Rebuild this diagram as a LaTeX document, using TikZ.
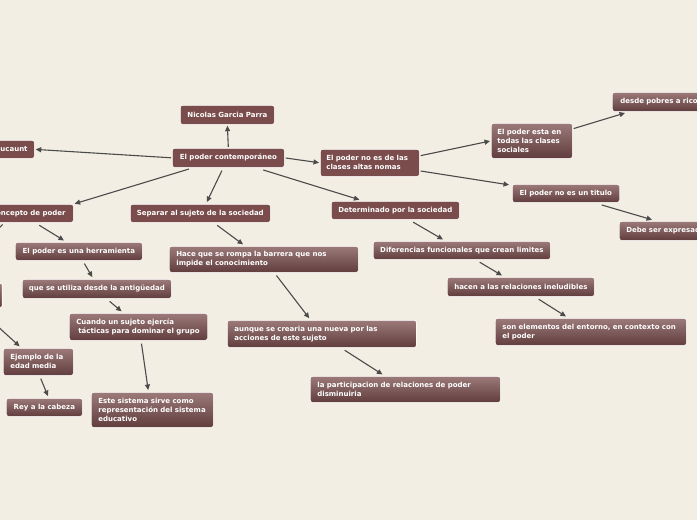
\documentclass[tikz,border=0pt]{standalone}
\usepackage{fontspec}
\setmainfont{DejaVu Sans}
\usetikzlibrary{arrows.meta}
\definecolor{bg}{HTML}{F3EEE3}
\definecolor{flatfill}{HTML}{7A4C4C}
\definecolor{gtop}{HTML}{9C7A7A}
\definecolor{gbot}{HTML}{613D3D}
\definecolor{lnk}{HTML}{4B4B4B}
\tikzset{
  base/.style={anchor=north west, rounded corners=2pt, draw=white, line width=0.7pt,
    text=white, font=\fontsize{7}{9}\selectfont\bfseries, inner xsep=6pt, inner ysep=2pt},
  flat/.style={base, fill=flatfill},
  grad/.style={base, top color=gtop, bottom color=gbot},
  sw/.style={minimum width=#1pt},
  mw/.style={text width=#1pt-12pt, minimum width=#1pt, align=left},
  lk/.style={draw=lnk, line width=1.1pt, -{Triangle[length=5.5pt,width=5pt]}, shorten >=1pt, shorten <=1pt}
}
\begin{document}
\begin{tikzpicture}[x=1pt,y=-1pt]
\fill[bg] (0,0) rectangle (697,520);
\useasboundingbox (0,0) rectangle (697,520);
\begin{scope}
\clip (0,0) rectangle (697,520);
% first-level nodes
\node[flat, sw=94, minimum height=19pt] (nic) at (180,105) {Nicolas Garcia Parra};
\node[flat, sw=112, minimum height=19pt] (con) at (172,148) {El poder contemporáneo};
\node[flat, sw=50, minimum height=18pt] (fou) at (-16,140) {Foucaunt};
\node[flat, sw=90, minimum height=18pt] (cpt) at (-17,204) {Concepto de poder};
\node[flat, sw=140, minimum height=18pt] (sep) at (130,204) {Separar al sujeto de la sociedad};
\node[flat, mw=99, minimum height=27pt] (nod) at (320,149) {El poder no es de las\\clases altas nomas};
\node[flat, sw=128, minimum height=18pt] (det) at (331,201) {Determinado por la sociedad};
% second-level nodes
\node[grad, mw=81, minimum height=35pt] (est) at (491,123) {El poder esta en\\todas las clases\\sociales};
\node[grad, mw=105, minimum height=19pt] (dpr) at (612,92) {\hspace*{2pt}desde pobres a ricos};
\node[grad, sw=107, minimum height=18pt] (tit) at (512,184) {El poder no es un titulo};
\node[grad, mw=110, minimum height=19pt] (deb) at (619,221) {\hspace*{1pt}Debe ser expresado};
\node[grad, sw=127, minimum height=18pt] (her) at (15,242) {El poder es una herramienta};
\node[grad, mw=189, minimum height=26pt] (hac) at (169,246) {\hspace*{1pt}Hace que se rompa la barrera que nos\\\hspace*{1pt}impide el conocimiento};
\node[grad, sw=177, minimum height=18pt] (dif) at (373,241) {Diferencias funcionales que crean limites};
\node[grad, sw=149, minimum height=19pt] (uti) at (22,279) {que se utiliza desde la antigüedad};
\node[grad, sw=147, minimum height=19pt] (hin) at (447,277) {hacen a las relaciones ineludibles};
\node[grad, mw=138, minimum height=27pt] (cua) at (69,313) {\hspace*{1pt}Cuando un sujeto ejercía\\\hspace*{3pt}tácticas para dominar el grupo};
\node[grad, mw=189, minimum height=27pt] (aun) at (227,320) {\hspace*{1pt}aunque se crearia una nueva por las\\\hspace*{1pt}acciones de este sujeto};
\node[grad, mw=191, minimum height=27pt] (son) at (495,318) {\hspace*{1pt}son elementos del entorno, en contexto con\\\hspace*{1pt}el poder};
\node[grad, sw=112, minimum height=24pt] (clp) at (-110,283) {};
\node[grad, mw=70, minimum height=27pt] (eje) at (3,348) {\hspace*{1pt}Ejemplo de la\\\hspace*{1pt}edad media};
\node[grad, sw=76, minimum height=18pt] (rey) at (6,398) {Rey a la cabeza};
\node[grad, mw=122, minimum height=35pt] (sis) at (91,392) {\hspace*{1pt}Este sistema sirve como\\\hspace*{1pt}representación del sistema\\\hspace*{1pt}educativo};
\node[grad, mw=190, minimum height=26pt] (par) at (310,376) {\hspace*{1pt}la participacion de relaciones de poder\\\hspace*{1pt}disminuiria};
% connectors
\draw[lk] (con.north) -- (nic.south);
\draw[lk] (con.west) -- (fou.east);
\draw[lk] (con.east) -- (nod.west);
\draw[lk] ([xshift=18pt,yshift=-1pt]con.south west) -- (cpt.north east);
\draw[lk] ([xshift=-6pt,yshift=-2pt]con.south) -- ([xshift=6pt,yshift=1pt]sep.north);
\draw[lk] ([xshift=34pt,yshift=-2pt]con.south) -- ([xshift=-35pt,yshift=1pt]det.north);
\draw[lk] ([yshift=7pt]nod.east) -- (est.west);
\draw[lk] ([yshift=-8pt]nod.east) -- ([xshift=-2pt,yshift=-1pt]tit.north west);
\draw[lk] ([yshift=12pt]est.east) -- ([xshift=14pt,yshift=-1pt]dpr.south west);
\draw[lk] ([xshift=35pt,yshift=-2pt]tit.south) -- ([xshift=34pt,yshift=1pt]deb.north west);
\draw[lk] ([xshift=10pt,yshift=-2pt]cpt.south) -- ([xshift=-14pt,yshift=1pt]her.north);
\draw[lk] ([xshift=5pt,yshift=-2pt]her.south) -- ([xshift=-4pt,yshift=1pt]uti.north);
\draw[lk] ([xshift=12pt,yshift=-2pt]uti.south) -- ([xshift=-16pt,yshift=1pt]cua.north);
\draw[lk] ([xshift=3pt,yshift=-2pt]cua.south) -- ([xshift=-4pt,yshift=1pt]sis.north);
\draw[lk] ([xshift=2pt,yshift=-2pt]eje.south) -- ([xshift=4pt,yshift=1pt]rey.north);
\draw[lk] ([xshift=33pt,yshift=-2pt]clp.south) -- ([xshift=-18pt,yshift=1pt]eje.north);
\draw[lk] ([xshift=-25pt,yshift=-1pt]cpt.south) -- ([xshift=0pt]clp.north);
\draw[lk] ([xshift=16pt,yshift=-2pt]sep.south) -- ([xshift=-20pt,yshift=1pt]hac.north);
\draw[lk] ([xshift=12pt,yshift=-2pt]hac.south) -- ([xshift=-12pt,yshift=1pt]aun.north);
\draw[lk] ([xshift=22pt,yshift=-2pt]aun.south) -- ([xshift=-22pt,yshift=1pt]par.north);
\draw[lk] ([xshift=17pt,yshift=-2pt]det.south) -- ([xshift=-18pt,yshift=1pt]dif.north);
\draw[lk] ([xshift=17pt,yshift=-2pt]dif.south) -- ([xshift=-18pt,yshift=1pt]hin.north);
\draw[lk] ([xshift=17pt,yshift=-2pt]hin.south) -- ([xshift=-24pt,yshift=1pt]son.north);
\end{scope}
\end{tikzpicture}
\end{document}
